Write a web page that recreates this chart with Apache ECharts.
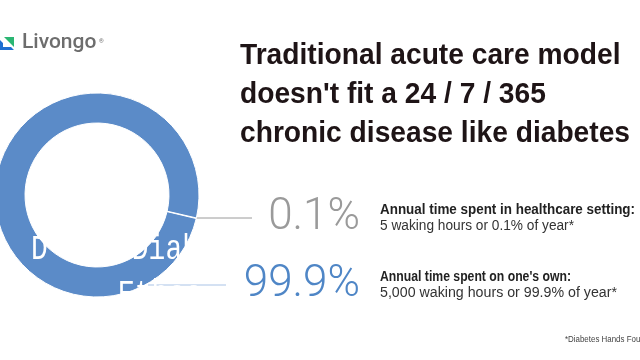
<!DOCTYPE html>
<html><head><meta charset="utf-8">
<script src="https://cdn.jsdelivr.net/npm/echarts@6/dist/echarts.min.js"></script>
<style>html,body{margin:0;padding:0;background:#fff}#c{width:640px;height:360px}</style>
</head><body><div id="c"></div>
<script>
const categories = ['Annual time spent in healthcare setting:', "Annual time spent on one's own:"];
const shares = [0.1, 99.9];
const details = ['5 waking hours or 0.1% of year*', '5,000 waking hours or 99.9% of year*'];
const titleLines = ['Traditional acute care model', "doesn't fit a 24 / 7 / 365", 'chronic disease like diabetes'];
const footnote = '*Diabetes Hands Foundation';

const BLUE = '#5b8bc8';
const numColors = ['#9a9a9a', '#4f86c6'];
const lineColors = ['#9a9a9a', '#a9c3e6'];
const labelY = [218, 285];
const lineStart = [[196, 218], [148, 285]];
const lineEnd = [252, 226];
const catWidths = [255, 191];
const detWidths = [194, 237];
const descTop = [203, 270];

const ctx = document.createElement('canvas').getContext('2d');
function fit(text, font, w) { ctx.font = font; return w / ctx.measureText(text).width; }

const chart = echarts.init(document.getElementById('c'));
const SANS = "'Liberation Sans', Arial, sans-serif";
const titleFont = 'bold 30px ' + SANS;
const titleScale = fit(titleLines[2], titleFont, 390);
const footFont = '9px ' + SANS;
const monoFont = '28px "Liberation Mono", monospace';
const graphics = [
  {type:'polygon', shape:{points:[[4,37],[14,37],[14,47]]}, style:{fill:'#2bb673'}},
  {type:'polygon', shape:{points:[[0,40],[3,43],[3,47],[11,47],[14,50],[0,50]]}, style:{fill:'#1f6fd1'}},
  {type:'text', left:22, top:32, style:{text:'Livongo', font:'500 21px Roboto, sans-serif', fill:'#6d6d6d'}},
  {type:'text', left:99, top:38, style:{text:'®', font:'6px Roboto, sans-serif', fill:'#6d6d6d'}},
  {type:'text', x:240, y:36, scaleX:titleScale, style:{text:titleLines.join('\n'), font:titleFont, lineHeight:39, fill:'#1e1416'}},
  {type:'text', x:565, y:335, scaleX:0.88, style:{text:footnote, font:footFont, fill:'#444'}},
  {type:'text', x:31, y:232, z:10, scaleY:1.25, style:{text:'D     Diabetes', font:monoFont, fill:'#ffffff'}},
  {type:'text', x:118, y:277, z:10, scaleY:1.25, style:{text:'Ethos', font:monoFont, fill:'#ffffff'}}
];
categories.forEach((c, i) => {
  const bf = 'bold 14px ' + SANS, rf = '14px ' + SANS;
  graphics.push({type:'text', x:380, y:descTop[i], scaleX:fit(c, bf, catWidths[i]), style:{text:c, font:bf, fill:'#222'}});
  graphics.push({type:'text', x:380, y:descTop[i] + 16, scaleX:fit(details[i], rf, detWidths[i]), style:{text:details[i], font:rf, fill:'#333'}});
});

chart.setOption({
  animation:false,
  graphic: graphics,
  series:[{
    type:'pie',
    center:[97,195],
    radius:[72,102],
    startAngle:-13,
    clockwise:true,
    avoidLabelOverlap:false,
    silent:true,
    itemStyle:{color:BLUE, borderColor:'#fff', borderWidth:1},
    label:{show:true, position:'outside', formatter:p => p.value + '%', fontSize:44, fontWeight:300, fontFamily:'Roboto, sans-serif'},
    labelLine:{show:true, lineStyle:{width:1}},
    labelLayout: p => {
      const i = p.dataIndex, s = lineStart[i];
      return {
        x: 360, y: labelY[i], align:'right', verticalAlign:'middle',
        labelLinePoints:[s, [(s[0] + lineEnd[i]) / 2, labelY[i]], [lineEnd[i], labelY[i]]]
      };
    },
    data: categories.map((c, i) => ({
      name:c, value:shares[i],
      label:{color:numColors[i]},
      labelLine:{lineStyle:{color:lineColors[i]}}
    }))
  }]
});
</script></body></html>
